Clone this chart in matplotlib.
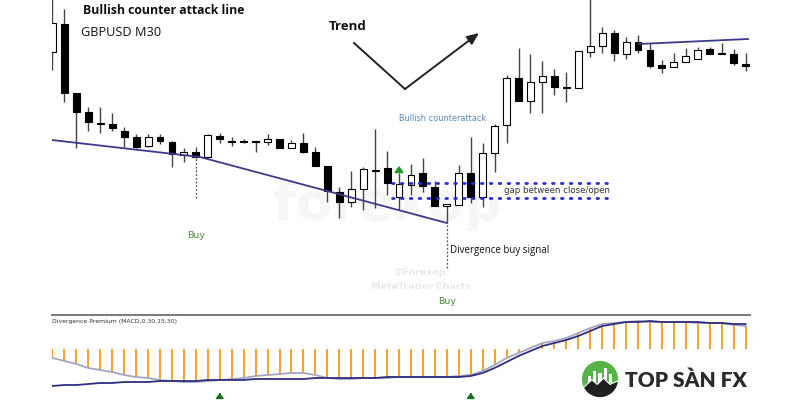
import numpy as np
import matplotlib.pyplot as plt
from matplotlib.patches import Circle, Rectangle, Polygon

# GBPUSD M30 candles
opens = [1.5848, 1.5876, 1.5807, 1.5788, 1.5777, 1.5776, 1.5769, 1.5763, 1.5754, 1.5763,
         1.5758, 1.5745, 1.5748, 1.5743, 1.5764, 1.5759, 1.5759, 1.5759, 1.5758, 1.5761,
         1.5752, 1.5757, 1.5748, 1.5734, 1.5708, 1.5698, 1.5711, 1.5730, 1.5732, 1.5703,
         1.5715, 1.5727, 1.5713, 1.5694, 1.5695, 1.5727, 1.5703, 1.5747, 1.5775, 1.5822,
         1.5799, 1.5818, 1.5824, 1.5813, 1.5812, 1.5848, 1.5854, 1.5867, 1.5846, 1.5858,
         1.5850, 1.5835, 1.5833, 1.5838, 1.5841, 1.5851, 1.5847, 1.5846, 1.5836]
highs = [1.5908, 1.5891, 1.5807, 1.5793, 1.5793, 1.5787, 1.5773, 1.5766, 1.5766, 1.5766,
         1.5759, 1.5752, 1.5753, 1.5766, 1.5767, 1.5763, 1.5761, 1.5759, 1.5766, 1.5761,
         1.5760, 1.5767, 1.5753, 1.5734, 1.5713, 1.5729, 1.5733, 1.5771, 1.5749, 1.5727,
         1.5736, 1.5742, 1.5719, 1.5696, 1.5735, 1.5763, 1.5757, 1.5776, 1.5825, 1.5852,
         1.5846, 1.5839, 1.5831, 1.5828, 1.5849, 1.5910, 1.5873, 1.5870, 1.5863, 1.5865,
         1.5857, 1.5840, 1.5847, 1.5852, 1.5853, 1.5853, 1.5857, 1.5851, 1.5847]
lows = [1.5830, 1.5798, 1.5752, 1.5769, 1.5767, 1.5769, 1.5753, 1.5752, 1.5753, 1.5756,
        1.5733, 1.5738, 1.5742, 1.5742, 1.5757, 1.5754, 1.5757, 1.5748, 1.5755, 1.5752,
        1.5752, 1.5747, 1.5734, 1.5698, 1.5682, 1.5693, 1.5690, 1.5692, 1.5705, 1.5690,
        1.5705, 1.5708, 1.5694, 1.5677, 1.5695, 1.5697, 1.5693, 1.5728, 1.5757, 1.5799,
        1.5787, 1.5787, 1.5805, 1.5798, 1.5812, 1.5843, 1.5847, 1.5839, 1.5841, 1.5847,
        1.5832, 1.5827, 1.5833, 1.5838, 1.5841, 1.5846, 1.5846, 1.5835, 1.5829]
closes = [1.5877, 1.5807, 1.5788, 1.5778, 1.5776, 1.5772, 1.5763, 1.5753, 1.5763, 1.5759,
          1.5746, 1.5748, 1.5743, 1.5765, 1.5761, 1.5758, 1.5758, 1.5758, 1.5761, 1.5752,
          1.5757, 1.5748, 1.5734, 1.5709, 1.5698, 1.5711, 1.5731, 1.5729, 1.5717, 1.5716,
          1.5725, 1.5714, 1.5694, 1.5696, 1.5727, 1.5703, 1.5747, 1.5774, 1.5822, 1.5799,
          1.5818, 1.5824, 1.5813, 1.5812, 1.5849, 1.5854, 1.5867, 1.5847, 1.5858, 1.5850,
          1.5834, 1.5832, 1.5838, 1.5844, 1.5850, 1.5846, 1.5846, 1.5837, 1.5834]

# Divergence Premium (MACD) histogram and signal line
macd = [-0.0009, -0.0012, -0.0015, -0.0019, -0.0021, -0.0023, -0.0026, -0.0028, -0.0029, -0.0031,
        -0.0032, -0.0033, -0.0033, -0.0032, -0.0031, -0.0030, -0.0029, -0.0027, -0.0026, -0.0025,
        -0.0024, -0.0024, -0.0026, -0.0029, -0.0030, -0.0030, -0.0029, -0.0029, -0.0029, -0.0028,
        -0.0028, -0.0028, -0.0028, -0.0028, -0.0027, -0.0026, -0.0022, -0.0016, -0.0009, -0.0004,
        0.0001, 0.0006, 0.0008, 0.0011, 0.0016, 0.0021, 0.0025, 0.0026, 0.0027, 0.0028,
        0.0027, 0.0027, 0.0027, 0.0027, 0.0026, 0.0026, 0.0026, 0.0024, 0.0023]
signal = [-0.0037, -0.0036, -0.0036, -0.0035, -0.0034, -0.0034, -0.0033, -0.0033, -0.0033, -0.0032,
          -0.0032, -0.0032, -0.0032, -0.0031, -0.0031, -0.0031, -0.0031, -0.0030, -0.0030, -0.0030,
          -0.0030, -0.0030, -0.0029, -0.0029, -0.0029, -0.0029, -0.0029, -0.0029, -0.0028, -0.0028,
          -0.0028, -0.0028, -0.0028, -0.0028, -0.0028, -0.0027, -0.0024, -0.0019, -0.0013, -0.0007,
          -0.0002, 0.0003, 0.0006, 0.0009, 0.0013, 0.0018, 0.0023, 0.0025, 0.0027, 0.0027,
          0.0028, 0.0027, 0.0027, 0.0027, 0.0027, 0.0026, 0.0026, 0.0025, 0.0025]

# Trend lines (bar index, price)
support_x = [-0.05, 12.34, 33.0]
support_y = [1.5760, 1.5743, 1.5677]
resist_x = [49.1, 58.2]
resist_y = [1.5856, 1.5861]
gap_levels = [1.5717, 1.5702]
buy_bars = [12, 33]
arrow_bars = [14, 35]

n = len(opens)
idx = np.arange(n)

fig = plt.figure(figsize=(8, 4), dpi=100)
fig.patch.set_facecolor('white')

X_LIM = (-0.04, 58.37)

# ---- price panel ----
ax = fig.add_axes([52 / 800, 1 - 312 / 400, 698 / 800, 312 / 400])
ax.set_xlim(*X_LIM)
ax.set_ylim(1.5588, 1.5900)
ax.axis('off')

# watermark
ax.text(28.0, 1.5695, 'forexop', fontsize=38, fontweight='bold', color='#f6f6f4',
        ha='center', va='center', family='DejaVu Sans', zorder=0)
ax.text(30.8, 1.5628, '©Forexop', fontsize=6.8, fontweight='bold', color='#e9e9e9',
        ha='center', va='center', family='DejaVu Sans', zorder=0)
ax.text(30.8, 1.5614, 'MetaTrader Charts', fontsize=6.8, fontweight='bold', color='#e9e9e9',
        ha='center', va='center', family='DejaVu Sans', zorder=0)

# candles
body_w = 0.58
for i in idx:
    o, h, l, c = opens[i], highs[i], lows[i], closes[i]
    ax.vlines(i, l, h, color='#444444', lw=1.0, zorder=2)
    bottom = min(o, c)
    height = max(abs(c - o), 0.00008)
    face = 'white' if c > o else 'black'
    ax.add_patch(Rectangle((i - body_w / 2, bottom), body_w, height,
                           facecolor=face, edgecolor='black', lw=0.8, zorder=3))

# trend lines
ax.plot(support_x, support_y, color='#3b3b8a', lw=1.3, zorder=4)
ax.plot(resist_x, resist_y, color='#3b3b8a', lw=1.3, zorder=4)

# gap between close/open
for lvl in gap_levels:
    ax.plot([28.4, 46.6], [lvl, lvl], color='#2a2ad8', lw=2.0,
            linestyle=(0, (0.6, 2.6)), dash_capstyle='round', zorder=4)
ax.text(37.8, 1.57095, 'gap between close/open', fontsize=6.2, color='#333333',
        ha='left', va='center', family='DejaVu Sans', zorder=5)

# buy signal markers
ax.vlines(buy_bars[0], 1.5702, lows[buy_bars[0]], color='#555555', lw=0.9,
          linestyles=(0, (1.5, 1.5)), zorder=1)
ax.vlines(buy_bars[1], 1.5632, lows[buy_bars[1]], color='#555555', lw=0.9,
          linestyles=(0, (1.5, 1.5)), zorder=1)
ax.text(buy_bars[0], 1.5665, 'Buy', fontsize=6.8, color='#4a8a3c', ha='center', va='center',
        family='DejaVu Sans')
ax.text(buy_bars[1], 1.5598, 'Buy', fontsize=6.8, color='#4a8a3c', ha='center', va='center',
        family='DejaVu Sans')
ax.text(33.27, 1.5650, 'Divergence buy signal', fontsize=7.0, color='#111111',
        ha='left', va='center', family='Open Sans')

ax.text(28.99, 1.5782, 'Bullish counterattack', fontsize=5.9, color='#5a86b8',
        ha='left', va='center', family='DejaVu Sans')
ax.annotate('', xy=(29, 1.5737), xytext=(29, 1.5727),
            arrowprops=dict(arrowstyle='-|>,head_width=0.25,head_length=0.35',
                            color='#1f9a2a', lw=1.4), zorder=6)

# trend sketch
ax.plot([25.23, 29.5], [1.5857, 1.5811], color='#222222', lw=1.4, zorder=5)
ax.annotate('', xy=(35.69, 1.5867), xytext=(29.5, 1.5811),
            arrowprops=dict(arrowstyle='-|>,head_width=0.3,head_length=0.7',
                            color='#222222', lw=1.4, shrinkA=0, shrinkB=0), zorder=5)
ax.text(24.73, 1.5874, 'Trend', fontsize=9.5, fontweight='bold', color='#111111',
        ha='center', va='center', family='Open Sans')

fig.text(83 / 800, 1 - 11 / 400, 'Bullish counter attack line', fontsize=8.8,
         fontweight='bold', color='#111111', ha='left', va='center', family='Open Sans')
fig.text(81 / 800, 1 - 32 / 400, 'GBPUSD M30', fontsize=9.2, color='#111111',
         ha='left', va='center', family='Open Sans')

# ---- indicator panel ----
ax2 = fig.add_axes([52 / 800, 0, 698 / 800, 85 / 400])
ax2.set_xlim(*X_LIM)
ax2.set_ylim(-0.0051, 0.0034)
for side in ['left', 'right', 'bottom']:
    ax2.spines[side].set_visible(False)
ax2.spines['top'].set_color('#7a7a7a')
ax2.spines['top'].set_linewidth(1.4)
ax2.set_xticks([])
ax2.set_yticks([])
ax2.patch.set_alpha(0)

ax2.vlines(idx, 0, macd, color='#f5a02a', lw=1.4, zorder=2)
ax2.plot(idx, macd, color='#a4a4c4', lw=1.3, zorder=3)
ax2.plot(idx, signal, color='#2e2e7e', lw=1.3, zorder=4)
ax2.text(0.0, 0.0027, 'Divergence Premium (MACD,0.30,15,30)', fontsize=4.4,
         color='#333333', ha='left', va='center', family='DejaVu Sans')
for b in arrow_bars:
    ax2.annotate('', xy=(b, -0.0041), xytext=(b, -0.0048),
                 arrowprops=dict(arrowstyle='-|>,head_width=0.22,head_length=0.3',
                                 color='#1c6e22', lw=1.2), zorder=6)

# ---- brand mark ----
lax = fig.add_axes([581 / 800, 1 - 398 / 400, 38 / 800, 38 / 400])
lax.set_xlim(-1.05, 1.05)
lax.set_ylim(-1.05, 1.05)
lax.set_aspect('equal')
lax.axis('off')
disc = Circle((0, 0), 1.0, facecolor='#56b447', edgecolor='none')
lax.add_patch(disc)
for bx, by0, by1 in [(-0.6, -0.35, 0.15), (-0.3, -0.25, 0.45), (0.0, -0.2, 0.35),
                     (0.3, -0.1, 0.6), (0.6, -0.2, 0.3)]:
    r = Rectangle((bx - 0.09, by0), 0.18, by1 - by0, facecolor='white', edgecolor='none')
    lax.add_patch(r)
    r.set_clip_path(disc)
mtn = Polygon([(-1.0, -0.55), (-0.45, -0.05), (-0.15, -0.3), (0.2, 0.05), (0.55, -0.3),
               (1.0, -0.1), (1.0, -1.1), (-1.0, -1.1)], closed=True,
              facecolor='#1f1f1f', edgecolor='white', lw=0.8)
lax.add_patch(mtn)
mtn.set_clip_path(disc)

fig.text(625 / 800, 1 - 380 / 400, 'TOP SÀN FX', fontsize=15, fontweight='heavy',
         color='#2a2a2a', ha='left', va='center', family='Lato')

fig.savefig('out.png', dpi=100)
